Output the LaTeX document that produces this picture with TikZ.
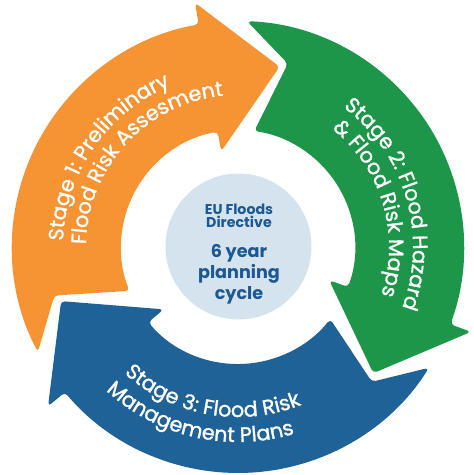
\documentclass[tikz,border=0pt]{standalone}
\usepackage{fontspec}
\setmainfont{Poppins}
\newfontfamily\ringfam{Poppins}[FakeBold=1.3]
\usetikzlibrary{decorations.text}
\definecolor{orangeC}{RGB}{246,147,50}
\definecolor{greenC}{RGB}{30,150,73}
\definecolor{blueC}{RGB}{31,98,152}
\definecolor{hubC}{RGB}{213,227,238}
\definecolor{hubtextC}{RGB}{28,88,146}
\newcommand\ringfont{\ringfam\fontsize{20.8}{24}\selectfont}
% #1 head base angle, #2 colour
\newcommand\cyclearrow[2]{%
  \fill[#2, rounded corners=4pt]
    ({#1+107.7}:226)
    arc[start angle={#1+107.7}, end angle={#1}, radius=226]
    -- ({#1}:248)
    -- ({#1-23}:185)
    -- ({#1}:97)
    -- ({#1}:117)
    arc[start angle={#1}, end angle={#1+102}, radius=117]
    -- ({#1+94.8}:190)
    -- cycle;}
\tikzset{
  hubtext/.style={text=hubtextC, align=center, inner sep=0pt}
}
\begin{document}
\begin{tikzpicture}[x=1pt,y=1pt]
\useasboundingbox (-238,-228) rectangle (236,247);
\cyclearrow{100}{orangeC}
\cyclearrow{-20}{greenC}
\cyclearrow{220}{blueC}
% ring texts
\path[decorate, decoration={text along path, text color=white, text={|\ringfont|Stage 1: Preliminary}}] (178:175) arc[start angle=178, end angle=40, radius=175];
\path[decorate, decoration={text along path, text color=white, text={|\ringfont|Flood Risk Assesment}}] (179:152) arc[start angle=179, end angle=30, radius=152];
\path[decorate, decoration={text along path, text color=white, text={|\ringfont|Stage 2: Flood Hazard}}] (53:175) arc[start angle=53, end angle=-90, radius=175];
\path[decorate, decoration={text along path, text color=white, text={|\ringfont|{\&} Flood Risk Maps}}] (51.5:151) arc[start angle=51.5, end angle=-90, radius=151];
\path[decorate, decoration={text along path, text color=white, text={|\ringfont|Stage 3: Flood Risk}}] (228:170) arc[start angle=228, end angle=350, radius=170];
\path[decorate, decoration={text along path, text color=white, text={|\ringfont|Management Plans}}] (227.4:195) arc[start angle=227.4, end angle=350, radius=195];
% hub
\node[circle, fill=hubC, minimum size=146pt, inner sep=0pt] (hub) at (0.5,0.5) {};
\node[hubtext, font=\bfseries\fontsize{14.2}{13}\selectfont] (eu) at (1,31.5) {EU Floods\\Directive};
\node[hubtext, font=\bfseries\fontsize{17.6}{21}\selectfont] (cyc) at (1,-27) {6 year\\planning\\cycle};
\end{tikzpicture}
\end{document}
